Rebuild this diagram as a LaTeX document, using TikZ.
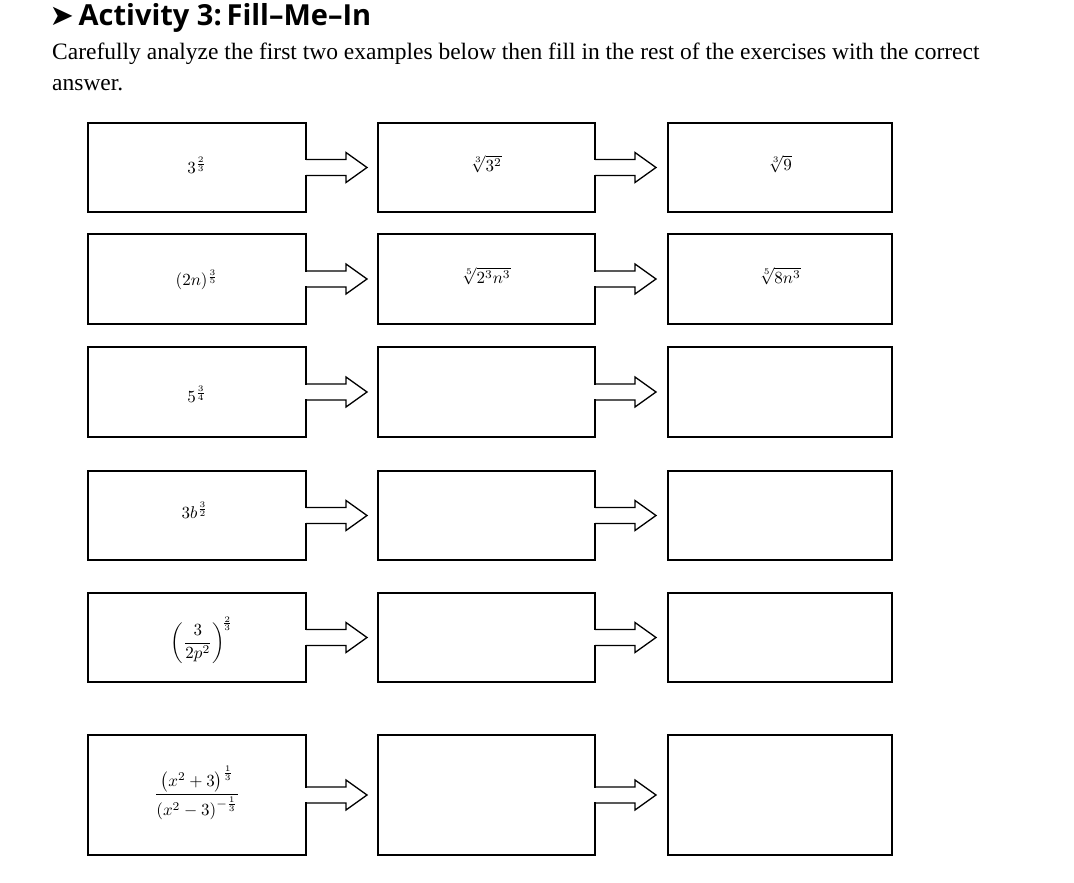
\documentclass[tikz,border=0pt]{standalone}
\usepackage{fontspec}
\usepackage{amsmath}
\usepackage{graphicx}
\setmainfont{Liberation Serif}
\newfontfamily\titlefont{Open Sans}
\newfontfamily\symfont{DejaVu Sans}
\newcommand\mexpr[1]{\scalebox{1.7}{$#1$}}

\begin{document}
\begin{tikzpicture}[x=1pt,y=1pt,yscale=-1]
\useasboundingbox (0,0) rectangle (1074,883);

% Title and instructions
\node (title) [anchor=west,font=\titlefont\bfseries\fontsize{29}{34}\selectfont] at (46,18) {{\symfont ➤}\,Activity 3:\,Fill–Me–In};
\node (intro) [anchor=north west,align=left,font=\fontsize{23.5}{31}\selectfont,inner sep=0pt] at (52,43) {Carefully analyze the first two examples below then fill in the rest of the exercises with the correct\\answer.};

% Boxes: rows (top, bottom)
\foreach \r/\t/\b in {1/123/212, 2/234/324, 3/347/437, 4/471/560, 5/593/682, 6/735/855} {
  \draw[line width=1.3pt] (88,\t) rectangle (306,\b);
  \draw[line width=1.3pt] (378,\t) rectangle (595,\b);
  \draw[line width=1.3pt] (668,\t) rectangle (892,\b);
  \coordinate (a\r) at (306,{(\t+\b)/2});
  \coordinate (b\r) at (595,{(\t+\b)/2});
  % arrows
  \foreach \s in {a,b} {
    \fill[white] ([xshift=-2,yshift=-7.3]\s\r) rectangle ([xshift=2,yshift=7.3]\s\r);
    \draw[line width=1.3pt,line join=miter]
      ([yshift=-8]\s\r) -- ++(40,0) -- ++(0,-7) -- ++(21,15) -- ++(-21,15) -- ++(0,-7) -- ++(-40,0);
  }
}

% Expressions
\node (e11) at (197,165) {\mexpr{3^{\frac{2}{3}}}};
\node (e12) at (486,164) {\mexpr{\sqrt[3]{3^{2}}}};
\node (e13) at (780,164) {\mexpr{\sqrt[3]{9}}};
\node (e21) at (197,280) {\mexpr{(2n)^{\frac{3}{5}}}};
\node (e22) at (486,276) {\mexpr{\sqrt[5]{2^{3}n^{3}}}};
\node (e23) at (780,276) {\mexpr{\sqrt[5]{8n^{3}}}};
\node (e31) at (197,394) {\mexpr{5^{\frac{3}{4}}}};
\node (e41) at (195,510) {\mexpr{3b^{\frac{3}{2}}}};
\node (e51) at (202,640) {\mexpr{\left(\dfrac{3}{2p^{2}}\right)^{\!\frac{2}{3}}}};
\node (e61) at (197,793) {\mexpr{\dfrac{\left(x^{2}+3\right)^{\frac{1}{3}}}{\left(x^{2}-3\right)^{-\frac{1}{3}}}}};
\end{tikzpicture}
\end{document}
